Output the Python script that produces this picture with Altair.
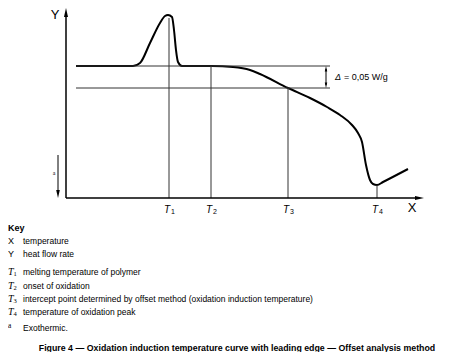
import altair as alt
import pandas as pd

# ---------------- data (arbitrary units: temperature / heat flow) ----------------
curve_x = [1.0, 6.7, 7.4, 8.4, 9.4, 9.9, 10.2, 10.6, 10.8, 11.0, 11.2, 11.6, 14.6, 16.7,
           18.4, 19.4, 22.2, 24.4, 26.1, 27.4, 28.6, 29.2, 29.6, 30.0, 30.4, 30.7, 31.1,
           31.7, 34.2]
curve_y = [13.2, 13.2, 13.5, 15.5, 17.5, 18.2, 18.3, 18.1, 16.8, 14.8, 13.6, 13.2, 13.2,
           13.1, 12.8, 12.4, 11.0, 10.0, 9.1, 8.3, 7.3, 6.5, 5.6, 3.3, 1.8, 1.4, 1.3,
           1.6, 2.9]

baseline_y = 13.2
offset_y = 11.0
line_start_x = 1.0
line_end_x = 26.4

t_names = ["T", "T", "T", "T"]
t_subs = ["1", "2", "3", "4"]
t_x = [10.3, 14.5, 22.2, 31.1]
t_top = [18.0, 13.2, 11.0, 1.3]

x_axis_end = 35.8
y_axis_end = 19.0

delta_x = 26.0
delta_label = "= 0,05 W/g"

key_symbols = ["X", "Y", "T", "T", "T", "T", "a"]
key_subs = ["", "", "1", "2", "3", "4", ""]
key_desc = ["temperature", "heat flow rate", "melting temperature of polymer",
            "onset of oxidation",
            "intercept point determined by offset method (oxidation induction temperature)",
            "temperature of oxidation peak", "Exothermic."]
key_row_y = [-4.3, -5.6, -7.4, -8.8, -10.1, -11.4, -13.0]
caption = "Figure 4 \u2014 Oxidation induction temperature curve with leading edge \u2014 Offset analysis method"

XD = [-5.8, 40.0]
YD = [-15.4, 19.0]
SANS = "Liberation Sans"
SERIF = "Liberation Serif"


def X(f="x"):
    return alt.X(f"{f}:Q", scale=alt.Scale(domain=XD, nice=False, zero=False), axis=None)


def Y(f="y"):
    return alt.Y(f"{f}:Q", scale=alt.Scale(domain=YD, nice=False, zero=False), axis=None)


def text_layer(df, **mk):
    return alt.Chart(df).mark_text(baseline="middle", color="black", **mk).encode(
        x=X(), y=Y(), text="t:N")


layers = []

# curve
curve_df = pd.DataFrame({"x": curve_x, "y": curve_y})
layers.append(alt.Chart(curve_df).mark_line(color="black", strokeWidth=2,
                                            interpolate="monotone").encode(x=X(), y=Y()))

# horizontal reference lines
h_df = pd.DataFrame({"x": [line_start_x] * 2, "x2": [line_end_x] * 2,
                     "y": [baseline_y, offset_y]})
layers.append(alt.Chart(h_df).mark_rule(color="#333", strokeWidth=1).encode(
    x=X(), x2="x2:Q", y=Y()))

# vertical T lines
v_df = pd.DataFrame({"x": t_x, "y": [0] * 4, "y2": t_top})
layers.append(alt.Chart(v_df).mark_rule(color="#333", strokeWidth=1).encode(
    x=X(), y=Y(), y2="y2:Q"))

# axes
ax_df = pd.DataFrame({"x": [0, 0], "x2": [x_axis_end - 0.5, 0],
                      "y": [0, 0], "y2": [0, y_axis_end - 0.5]})
layers.append(alt.Chart(ax_df).mark_rule(color="black", strokeWidth=1.5).encode(
    x=X(), x2="x2:Q", y=Y(), y2="y2:Q"))

# exotherm arrow shaft and delta arrow shaft
sh_df = pd.DataFrame({"x": [-0.8, delta_x], "y": [4.3, baseline_y - 0.3],
                      "y2": [0.5, offset_y + 0.3]})
layers.append(alt.Chart(sh_df).mark_rule(color="black", strokeWidth=1).encode(
    x=X(), y=Y(), y2="y2:Q"))

UP = "M0,0L0.45,2L-0.45,2Z"
DOWN = "M0,0L0.45,-2L-0.45,-2Z"
RIGHT = "M0,0L-2,0.45L-2,-0.45Z"


def head(x, y, shape, size):
    return alt.Chart(pd.DataFrame({"x": [x], "y": [y]})).mark_point(
        shape=shape, size=size, filled=True, color="black", opacity=1, strokeWidth=0
    ).encode(x=X(), y=Y())


layers.append(head(0, y_axis_end, UP, 81))
layers.append(head(x_axis_end, 0, RIGHT, 81))
layers.append(head(-0.8, 0.0, DOWN, 64))
layers.append(head(delta_x, baseline_y, UP, 30))
layers.append(head(delta_x, offset_y, DOWN, 30))

# axis letters
layers.append(text_layer(pd.DataFrame({"x": [34.6, -1.1], "y": [-1.0, 18.3], "t": ["X", "Y"]}),
                         font=SANS, fontSize=13, align="center"))
# exotherm label
layers.append(text_layer(pd.DataFrame({"x": [-1.2], "y": [2.5], "t": ["a"]}),
                         font=SERIF, fontSize=6, align="center"))
# delta label
layers.append(text_layer(pd.DataFrame({"x": [26.9], "y": [12.1], "t": ["\u0394"]}),
                         font=SANS, fontSize=9, fontStyle="italic", align="left"))
layers.append(text_layer(pd.DataFrame({"x": [27.7], "y": [12.1], "t": [delta_label]}),
                         font=SANS, fontSize=9, align="left", dx=1))

# T tick labels
tl_df = pd.DataFrame({"x": t_x, "y": [-1.2] * 4, "t": t_names})
layers.append(text_layer(tl_df, font=SANS, fontSize=10, fontStyle="italic", align="center", dx=-2))
ts_df = pd.DataFrame({"x": t_x, "y": [-1.2] * 4, "t": t_subs})
layers.append(text_layer(ts_df, font=SANS, fontSize=7, align="center", dx=4, dy=2))

# Key
layers.append(text_layer(pd.DataFrame({"x": [-5.8], "y": [-3.0], "t": ["Key"]}),
                         font=SANS, fontSize=9, fontWeight="bold", align="left"))
xy_df = pd.DataFrame({"x": [-5.8, -5.8], "y": key_row_y[:2], "t": key_symbols[:2]})
layers.append(text_layer(xy_df, font=SANS, fontSize=9, align="left"))
kt_df = pd.DataFrame({"x": [-5.8] * 4, "y": key_row_y[2:6], "t": key_symbols[2:6]})
layers.append(text_layer(kt_df, font=SERIF, fontSize=10, fontStyle="italic", align="left"))
ks_df = pd.DataFrame({"x": [-5.8] * 4, "y": key_row_y[2:6], "t": key_subs[2:6]})
layers.append(text_layer(ks_df, font=SERIF, fontSize=6.5, align="left", dx=5.5, dy=2))
ka_df = pd.DataFrame({"x": [-5.8], "y": [key_row_y[6] + 0.2], "t": [key_symbols[6]]})
layers.append(text_layer(ka_df, font=SERIF, fontSize=7.5, align="left"))
kd_df = pd.DataFrame({"x": [-4.3] * 7, "y": key_row_y, "t": key_desc})
layers.append(text_layer(kd_df, font=SANS, fontSize=8.5, align="left"))

# caption
layers.append(text_layer(pd.DataFrame({"x": [17.1], "y": [-15.0], "t": [caption]}),
                         font=SANS, fontSize=8.8, fontWeight="bold", align="center"))

chart = alt.layer(*layers).properties(
    width=458, height=344, padding=0, autosize="none"
).configure_view(stroke=None)

chart.save("out.html", embed_options={"renderer": "svg", "actions": False})
